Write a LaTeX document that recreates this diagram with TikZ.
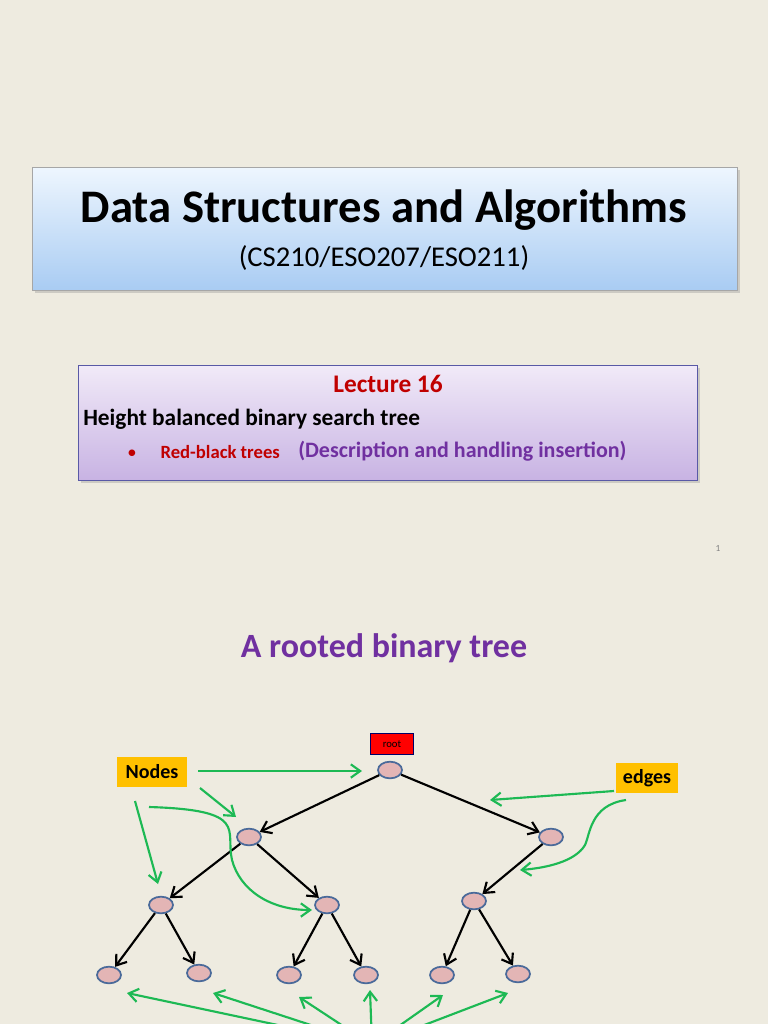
\documentclass[tikz,border=0pt]{standalone}
\usepackage{fontspec}
\setmainfont{Carlito}
\usetikzlibrary{arrows.meta,shadows,shapes.geometric}
\definecolor{bg}{HTML}{EEEBE0}
\definecolor{ggreen}{HTML}{1DB954}
\definecolor{nodefill}{HTML}{E3B5B5}
\definecolor{nodeedge}{HTML}{4A6A9A}
\definecolor{darkred}{HTML}{C00000}
\definecolor{purp}{HTML}{7030A0}
\definecolor{gold}{HTML}{FFC000}
\definecolor{htop}{HTML}{EEF6FE}
\definecolor{hbot}{HTML}{A9CCF3}
\definecolor{ltop}{HTML}{F1EAF8}
\definecolor{lbot}{HTML}{C8B3E3}
\tikzset{
  tnode/.style={ellipse,draw=nodeedge,line width=1.3pt,fill=nodefill,minimum width=18pt,minimum height=12.5pt,inner sep=0pt},
  tedge/.style={-{Straight Barb[length=7pt,width=10pt]},line width=1.6pt,black},
  gar/.style={-{Straight Barb[length=7pt,width=10pt]},line width=1.6pt,ggreen},
  lab/.style={fill=gold,font=\fontsize{15}{17}\selectfont\bfseries,inner sep=0pt,minimum height=23pt}
}
\begin{document}
\begin{tikzpicture}[x=0.75pt,y=-0.75pt]
\fill[bg] (0,0) rectangle (768,1024);
\useasboundingbox (0,0) rectangle (768,1024);
\clip (0,0) rectangle (768,1024);
% header
\shade[top color=htop, bottom color=hbot, draw=gray!70, drop shadow={opacity=0.3}] (32,167) rectangle (737,290);
\node (title) at (384,210) {\fontsize{35}{40}\selectfont\bfseries Data Structures and Algorithms};
\node (sub) at (384,258) {\fontsize{21.5}{25}\selectfont (CS210/ESO207/ESO211)};
% lecture box
\shade[top color=ltop, bottom color=lbot, draw=gray!70!blue, drop shadow={opacity=0.3}] (78,365) rectangle (697,480);
\node (lec) at (388,384) {\fontsize{19}{22}\selectfont\bfseries\color{darkred} Lecture 16};
\node[anchor=west,inner sep=0pt] (hb) at (83,419) {\fontsize{17.5}{20}\selectfont\bfseries Height balanced binary search tree};
\node[anchor=west,inner sep=0pt] (bul) at (127,452) {\fontsize{14}{16}\selectfont\color{darkred}\textbullet\hspace{18pt}\bfseries Red-black trees};
\node[anchor=west,inner sep=0pt] (desc) at (298,451) {\fontsize{16.5}{19}\selectfont\bfseries\color{purp} (Description and handling insertion)};
\node (pg) at (718,548) {\fontsize{7}{8}\selectfont\color{gray} 1};
\node (tt) at (384,648) {\fontsize{25.5}{30}\selectfont\bfseries\color{purp} A rooted binary tree};
% tree
\node[tnode] (r) at (390,770) {};
\node[tnode] (a) at (249,837) {};
\node[tnode] (b) at (551,837) {};
\node[tnode] (c) at (161,905) {};
\node[tnode] (d) at (327,905) {};
\node[tnode] (e) at (474,901) {};
\node[tnode] (f) at (109,975) {};
\node[tnode] (g) at (199,973) {};
\node[tnode] (h) at (289,975) {};
\node[tnode] (i) at (366,975) {};
\node[tnode] (j) at (442,975) {};
\node[tnode] (k) at (518,974) {};
\foreach \u/\v in {r/a,r/b,a/c,a/d,b/e,c/f,c/g,d/h,d/i,e/j,e/k} \draw[tedge] (\u) -- (\v);
\node[fill=red,draw=blue!40!black,line width=0.8pt,minimum width=32pt,minimum height=16pt,inner sep=0pt,font=\fontsize{8}{9}\selectfont] (root) at (392,744) {root};
\node[lab,minimum width=52pt] (nodes) at (152,772) {Nodes};
\node[lab,minimum width=46pt] (edges) at (647,778) {edges};
% green arrows
\coordinate (n1) at (198,771); \coordinate (n1e) at (362,771);
\draw[gar] (n1) -- (n1e);
\coordinate (n2) at (200,788); \coordinate (n2e) at (236,817);
\draw[gar] (n2) -- (n2e);
\coordinate (n3) at (135,801); \coordinate (n3e) at (158,884);
\draw[gar] (n3) -- (n3e);
\coordinate (n4) at (149,807); \coordinate (n4e) at (312,910);
\draw[gar] (n4) .. controls (250,810) and (225,830) .. (232,860) .. controls (240,890) and (270,910) .. (n4e);
\coordinate (e1) at (614,791); \coordinate (e1e) at (490,800);
\draw[gar] (e1) -- (e1e);
\coordinate (e2) at (626,800); \coordinate (e2e) at (520,870);
\draw[gar] (e2) .. controls (590,805) and (590,835) .. (585,845) .. controls (575,862) and (545,868) .. (e2e);
\coordinate (base) at (372,1045);
\foreach \t in {(127,993),(213,993),(299,997),(370,990),(443,995),(508,993)}
  \draw[gar] (base) -- \t;
\end{tikzpicture}
\end{document}
